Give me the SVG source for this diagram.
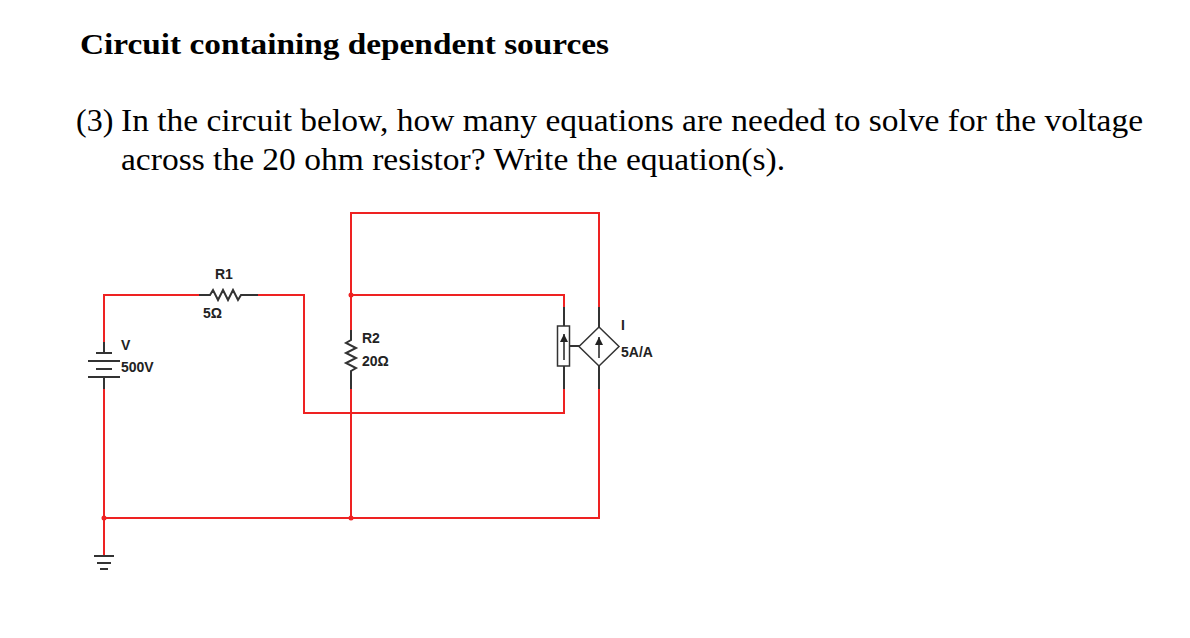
<svg xmlns="http://www.w3.org/2000/svg" width="1190" height="638" viewBox="0 0 1190 638">
<style>
.w{stroke:#ee2222;stroke-width:2;fill:none}
.g{stroke:#333;stroke-width:2;fill:none}
.t{font-family:"Liberation Serif",serif;fill:#000}
.l{font-family:"Liberation Sans",sans-serif;font-weight:bold;font-size:14px;fill:#222}
</style>
<rect width="1190" height="638" fill="#fff"/>
<text class="t" x="80" y="54" font-size="29" font-weight="bold" textLength="529" lengthAdjust="spacingAndGlyphs">Circuit containing dependent sources</text>
<text class="t" x="76" y="131" font-size="32">(3)</text>
<text class="t" x="121" y="131" font-size="32" textLength="1022" lengthAdjust="spacingAndGlyphs">In the circuit below, how many equations are needed to solve for the voltage</text>
<text class="t" x="121" y="170" font-size="32" textLength="664" lengthAdjust="spacingAndGlyphs">across the 20 ohm resistor? Write the equation(s).</text>
<g id="wires">
<polyline class="w" points="104,342 104,295 199,295"/>
<polyline class="w" points="258,295 304,295 304,413 564,413 564,389"/>
<polyline class="w" points="351,330 351,213 599,213 599,307"/>
<polyline class="w" points="351,295 564,295 564,307"/>
<polyline class="w" points="351,389 351,518"/>
<polyline class="w" points="599,389 599,518 104,518"/>
<polyline class="w" points="104,389 104,555"/>
<circle cx="351" cy="295" r="2.5" fill="#ee2222"/>
<circle cx="351" cy="518" r="2.5" fill="#ee2222"/>
<circle cx="104" cy="518" r="2.5" fill="#ee2222"/>
</g>
<g id="V">
<path class="g" d="M104,342V353M96,353H112M88,361H120M96,369H112M88,377H120M96,377H112M104,377V389"/>
<text class="l" x="121" y="350">V</text>
<text class="l" x="121" y="372">500V</text>
</g>
<g id="R1">
<path class="g" stroke-width="1.5" d="M199,295H210L213,290L218,300L223,290L228,300L233,290L238,300L241,295H258"/>
<text class="l" x="215" y="279">R1</text>
<text class="l" x="203" y="318">5Ω</text>
</g>
<g id="R2">
<path class="g" stroke-width="1.5" d="M351,330V340L346,343L356,348L346,353L356,358L346,363L356,368L351,371V389"/>
<text class="l" x="362" y="343">R2</text>
<text class="l" x="362" y="366">20Ω</text>
</g>
<g id="sensor">
<path class="g" d="M564,307V326M564,366V389"/>
<rect x="557.5" y="326" width="12" height="40" fill="#fff" stroke="#333" stroke-width="1.5"/>
<path d="M564,334V360" stroke="#222" stroke-width="1.5"/>
<path d="M560,342L564,334L568,342Z" fill="#222"/>
<path class="g" stroke-width="1.5" d="M569,346H580"/>
</g>
<g id="I">
<path class="g" d="M599,307V327M599,366V389"/>
<path d="M599,327L619,346.5L599,366L579,346.5Z" fill="#fff" stroke="#333" stroke-width="1.5"/>
<path d="M599,337V358" stroke="#222" stroke-width="1.5"/>
<path d="M595,345L599,337L603,345Z" fill="#222"/>
<text class="l" x="621" y="330">I</text>
<text class="l" x="621" y="357">5A/A</text>
</g>
<g id="gnd">
<path class="g" stroke-width="1.5" d="M94,556H114M97,563H111M100,569H108"/>
</g>
</svg>
